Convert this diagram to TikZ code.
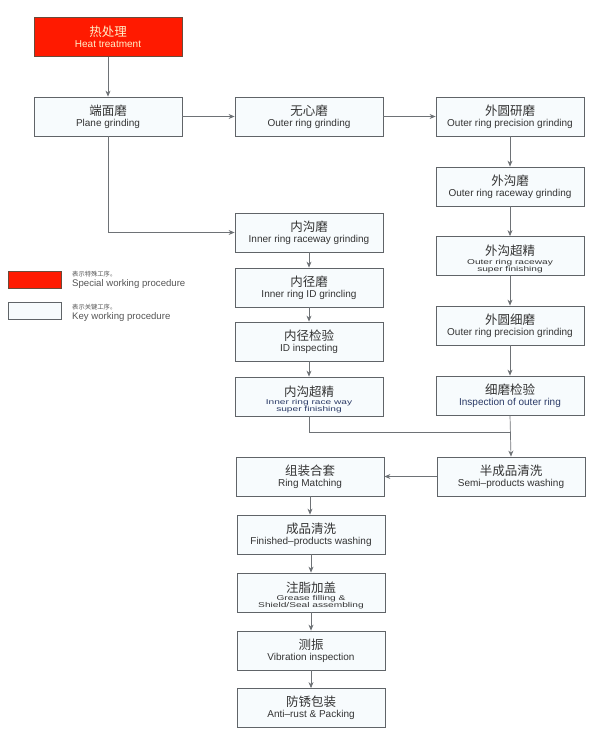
\documentclass[tikz,border=0pt]{standalone}
\usepackage{fontspec}
\setmainfont{Liberation Sans}
\newfontfamily\cjk{Noto Sans CJK SC}
\newfontfamily\widefont[FakeStretch=1.45]{Liberation Sans}
\usetikzlibrary{arrows.meta}
\definecolor{boxfill}{HTML}{F7FBFD}
\definecolor{boxline}{HTML}{606468}
\definecolor{arrline}{HTML}{6E7276}
\definecolor{redfill}{HTML}{FF1A00}
\definecolor{redline}{HTML}{6A4A3A}
\definecolor{redtext}{HTML}{FFF0C8}
\definecolor{txt}{HTML}{333333}
\definecolor{legtxt}{HTML}{555555}
\definecolor{bluetxt}{HTML}{2A3A66}
\newcommand{\twofont}{\fontsize{10}{11}\selectfont\lineskiplimit-30pt\relax}
\newcommand{\threefont}{\widefont\fontsize{7}{7}\selectfont\lineskiplimit-30pt\relax}
\tikzset{
  keybox/.style={draw=boxline, fill=boxfill, line width=0.8pt, minimum width=148pt, minimum height=39pt, inner sep=0pt, align=center, text=txt,
    font=\twofont},
  threebox/.style={keybox, font=\threefont},
  specbox/.style={keybox, draw=redline, fill=redfill, text=redtext},
  legbox/.style={line width=0.8pt, minimum width=53pt, minimum height=17pt, inner sep=0pt},
  legtext/.style={anchor=west, inner sep=0pt, text=legtxt},
  flow/.style={draw=arrline, line width=0.7pt, -{Stealth[length=6pt,width=5pt,inset=2pt]}},
  link/.style={draw=arrline, line width=0.7pt},
}
\newcommand{\zh}[1]{{\cjk\fontsize{12.5}{11}\selectfont #1}}
\newcommand{\zhtop}[1]{{\rule{0pt}{16pt}\cjk\fontsize{12.5}{11}\selectfont #1}}
\begin{document}
\begin{tikzpicture}[x=1pt,y=-1pt]
\useasboundingbox (0,0) rectangle (594,744);
% top row
\node[specbox] (heat) at (108,37) {\zh{热处理}\\Heat treatment};
\node[keybox] (plane) at (108,116.5) {\zh{端面磨}\\Plane grinding};
\node[keybox] (ogr) at (309,116.5) {\zh{无心磨}\\Outer ring grinding};
\node[keybox] (oprec) at (510,116.5) {\zh{外圆研磨}\\Outer ring precision grinding};
% outer column
\node[keybox] (orace) at (510,186.5) {\zh{外沟磨}\\Outer ring raceway grinding};
\node[threebox] (osup) at (510,256) {\zhtop{外沟超精}\\[1.5pt]Outer ring raceway\\super finishing};
\node[keybox] (ofine) at (510,325.5) {\zh{外圆细磨}\\Outer ring precision grinding};
\node[keybox] (oinsp) at (510,395.5) {\zh{细磨检验}\\{\color{bluetxt}Inspection of outer ring}};
% inner column
\node[keybox] (irace) at (309,232.5) {\zh{内沟磨}\\Inner ring raceway grinding};
\node[keybox] (iid) at (309,287.5) {\zh{内径磨}\\Inner ring ID grincling};
\node[keybox] (iinsp) at (309,341.5) {\zh{内径检验}\\ID inspecting};
\node[threebox] (isup) at (309,396.5) {\zhtop{内沟超精}\\[1.5pt]{\color{bluetxt}Inner ring race way}\\{\color{bluetxt}super finishing}};
% lower part
\node[keybox] (semi) at (511,476.5) {\zh{半成品清洗}\\Semi–products washing};
\node[keybox] (match) at (310,476.5) {\zh{组装合套}\\Ring Matching};
\node[keybox] (fwash) at (311,534.5) {\zh{成品清洗}\\Finished–products washing};
\node[threebox] (grease) at (311,592.5) {\zhtop{注脂加盖}\\[1.5pt]Grease filling \&\\Shield/Seal assembling};
\node[keybox] (vib) at (311,650.5) {\zh{测振}\\Vibration inspection};
\node[keybox] (pack) at (311,708) {\zh{防锈包装}\\Anti–rust \& Packing};
% legend
\node[legbox, draw=redline, fill=redfill] (legred) at (34.5,279.5) {};
\node[legbox, draw=boxline, fill=boxfill] (legkey) at (34.5,310.5) {};
\node[legtext] (legredzh) at (72,274) {\cjk\fontsize{6.3}{7}\selectfont 表示特殊工序。};
\node[legtext] (legreden) at (72,284.5) {\fontsize{9.6}{10}\selectfont Special working procedure};
\node[legtext] (legkeyzh) at (72,307) {\cjk\fontsize{6.3}{7}\selectfont 表示关键工序。};
\node[legtext] (legkeyen) at (72,317) {\fontsize{9.6}{10}\selectfont Key working procedure};
% connectors
\draw[flow] (heat) -- (plane);
\draw[flow] (plane) -- (ogr);
\draw[flow] (ogr) -- (oprec);
\draw[flow] (oprec) -- (orace);
\draw[flow] (orace) -- (osup);
\draw[flow] (osup) -- (ofine);
\draw[flow] (ofine) -- (oinsp);
\draw[flow] (plane.south) |- (irace.west);
\draw[flow] (irace) -- (iid);
\draw[flow] (iid) -- (iinsp);
\draw[flow] (iinsp) -- (isup);
\coordinate (merge) at (oinsp.south |- 0,432);
\draw[link] (isup.south) |- (merge);
\draw[flow] (oinsp.south) -- (semi.north);
\draw[flow] (semi) -- (match);
\draw[flow] (match.south) -- (match.south |- fwash.north);
\draw[flow] (fwash) -- (grease);
\draw[flow] (grease) -- (vib);
\draw[flow] (vib) -- (pack);
\end{tikzpicture}
\end{document}
